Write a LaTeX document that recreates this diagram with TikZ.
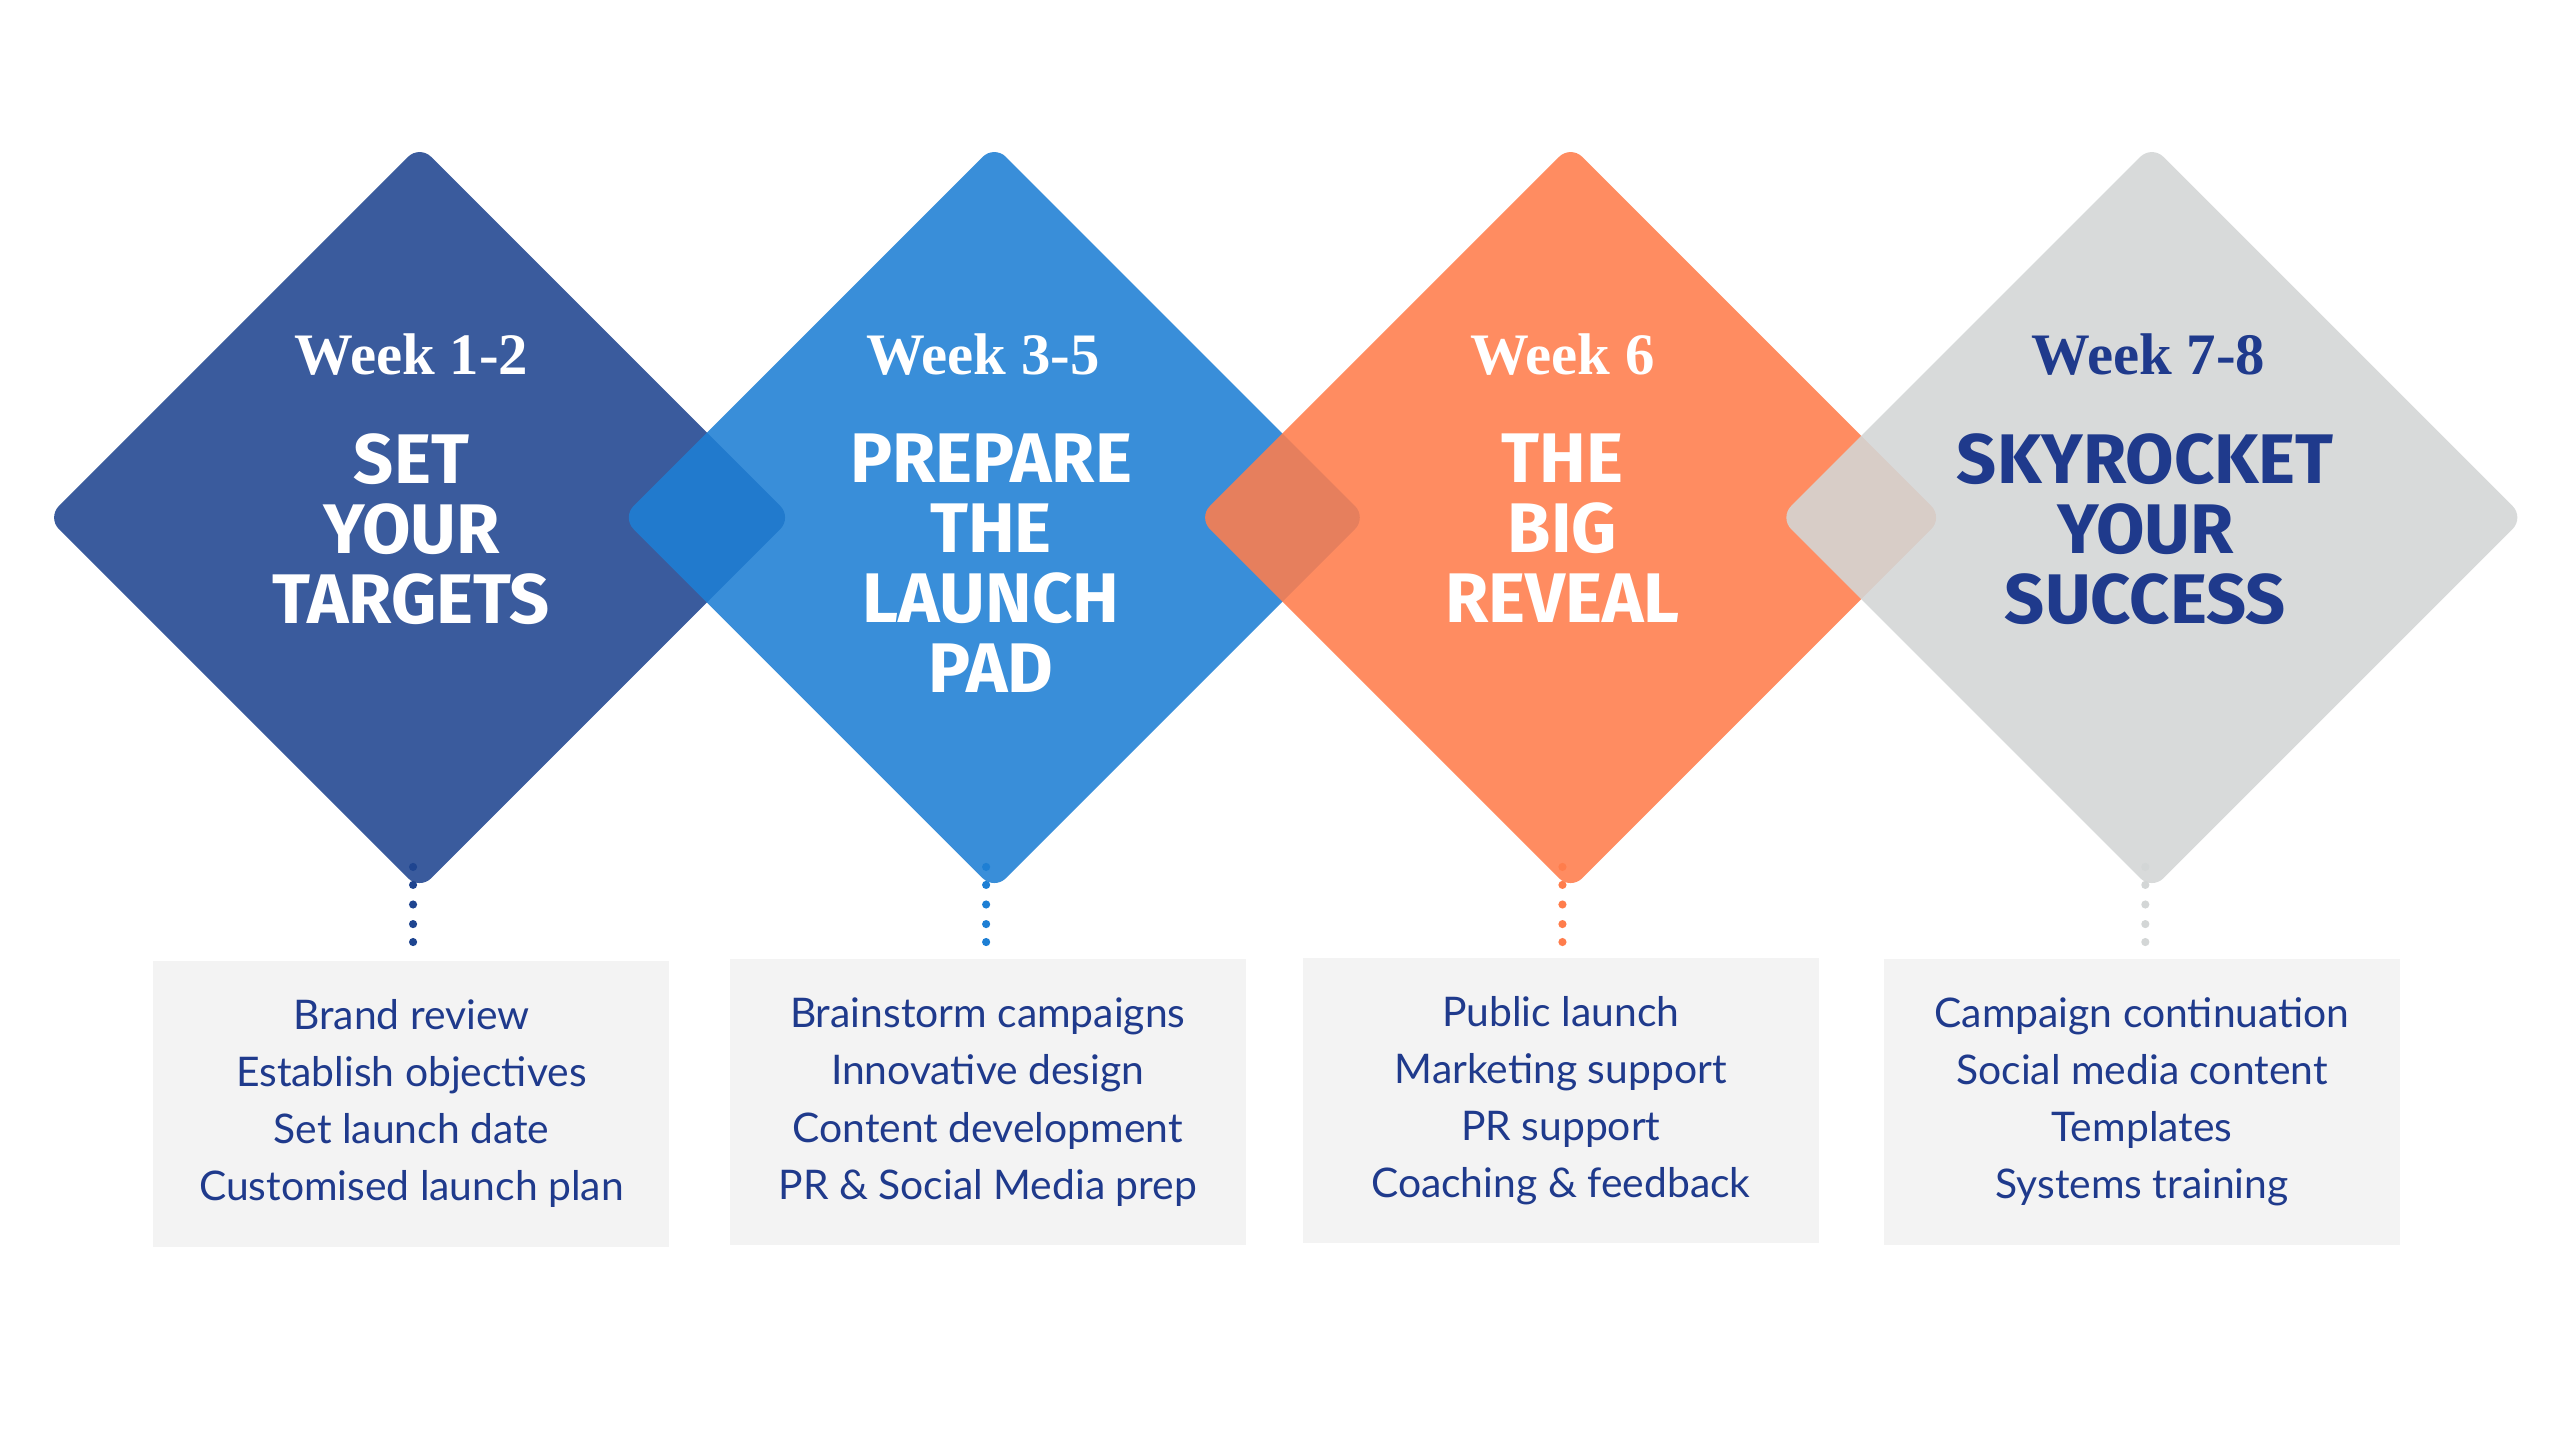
\documentclass[tikz,border=0pt]{standalone}
\usepackage{fontspec}
\setmainfont{Lato}
\newfontfamily\wkfont{Liberation Serif}
\newfontfamily\ttlfont{Fira Sans}
\begin{document}
\begin{tikzpicture}[x=1pt,y=-1pt]
\definecolor{c1}{HTML}{1F4590}
\definecolor{c2}{HTML}{1E7FD4}
\definecolor{c3}{HTML}{FF7D4C}
\definecolor{c4}{HTML}{D3D6D6}
\definecolor{tx}{HTML}{1F3A8C}
\definecolor{bx}{HTML}{F3F3F3}
\tikzset{
 dia/.style={fill=#1,fill opacity=0.88,rounded corners=10pt},
 wk/.style={font=\wkfont\bfseries\fontsize{36}{40}\selectfont,text=#1},
 ttl/.style={font=\ttlfont\bfseries\fontsize{43}{43}\selectfont,align=center,text=#1},
 box/.style={fill=bx,minimum width=316pt,minimum height=175pt,inner sep=0pt,align=center,text=tx,font=\fontsize{25}{35}\selectfont},
 dot/.style={fill=#1,circle,inner sep=0pt,minimum size=5pt}
}
\useasboundingbox (0,0) rectangle (1568,882);
\fill[white] (0,0) rectangle (1568,882);
\foreach \cx/\col in {257/c1,609/c2,962/c3,1318/c4}{
 \draw[dia=\col,draw=none] (\cx,89) -- (\cx+228,317) -- (\cx,545) -- (\cx-228,317) -- cycle;
}
\node[wk=white] (w1) at (252,217) {Week 1-2};
\node[wk=white] (w2) at (602,217) {Week 3-5};
\node[wk=white] (w3) at (957,217) {Week 6};
\node[wk=tx] (w4) at (1316,217) {Week 7-8};
\node[ttl=white,anchor=north] (t1) at (252,262) {SET\\YOUR\\TARGETS};
\node[ttl=white,anchor=north] (t2) at (607,262) {PREPARE\\THE\\LAUNCH\\PAD};
\node[ttl=white,anchor=north] (t3) at (957,262) {THE\\BIG\\REVEAL};
\node[ttl=tx,anchor=north] (t4) at (1314,262) {SKYROCKET\\YOUR\\SUCCESS};
\foreach \x/\col in {253/c1,604/c2,957/c3,1314/c4}{
 \foreach \y in {531,542,554,566,577} \node[dot=\col] at (\x,\y) {};
}
\node[box] (b1) at (252,676) {Brand review\\Establish objectives\\Set launch date\\Customised launch plan};
\node[box] (b2) at (605,675) {Brainstorm campaigns\\Innovative design\\Content development\\PR \& Social Media prep};
\node[box] (b3) at (956,674) {Public launch\\Marketing support\\PR support\\Coaching \& feedback};
\node[box] (b4) at (1312,675) {Campaign continuation\\Social media content\\Templates\\Systems training};
\end{tikzpicture}
\end{document}
